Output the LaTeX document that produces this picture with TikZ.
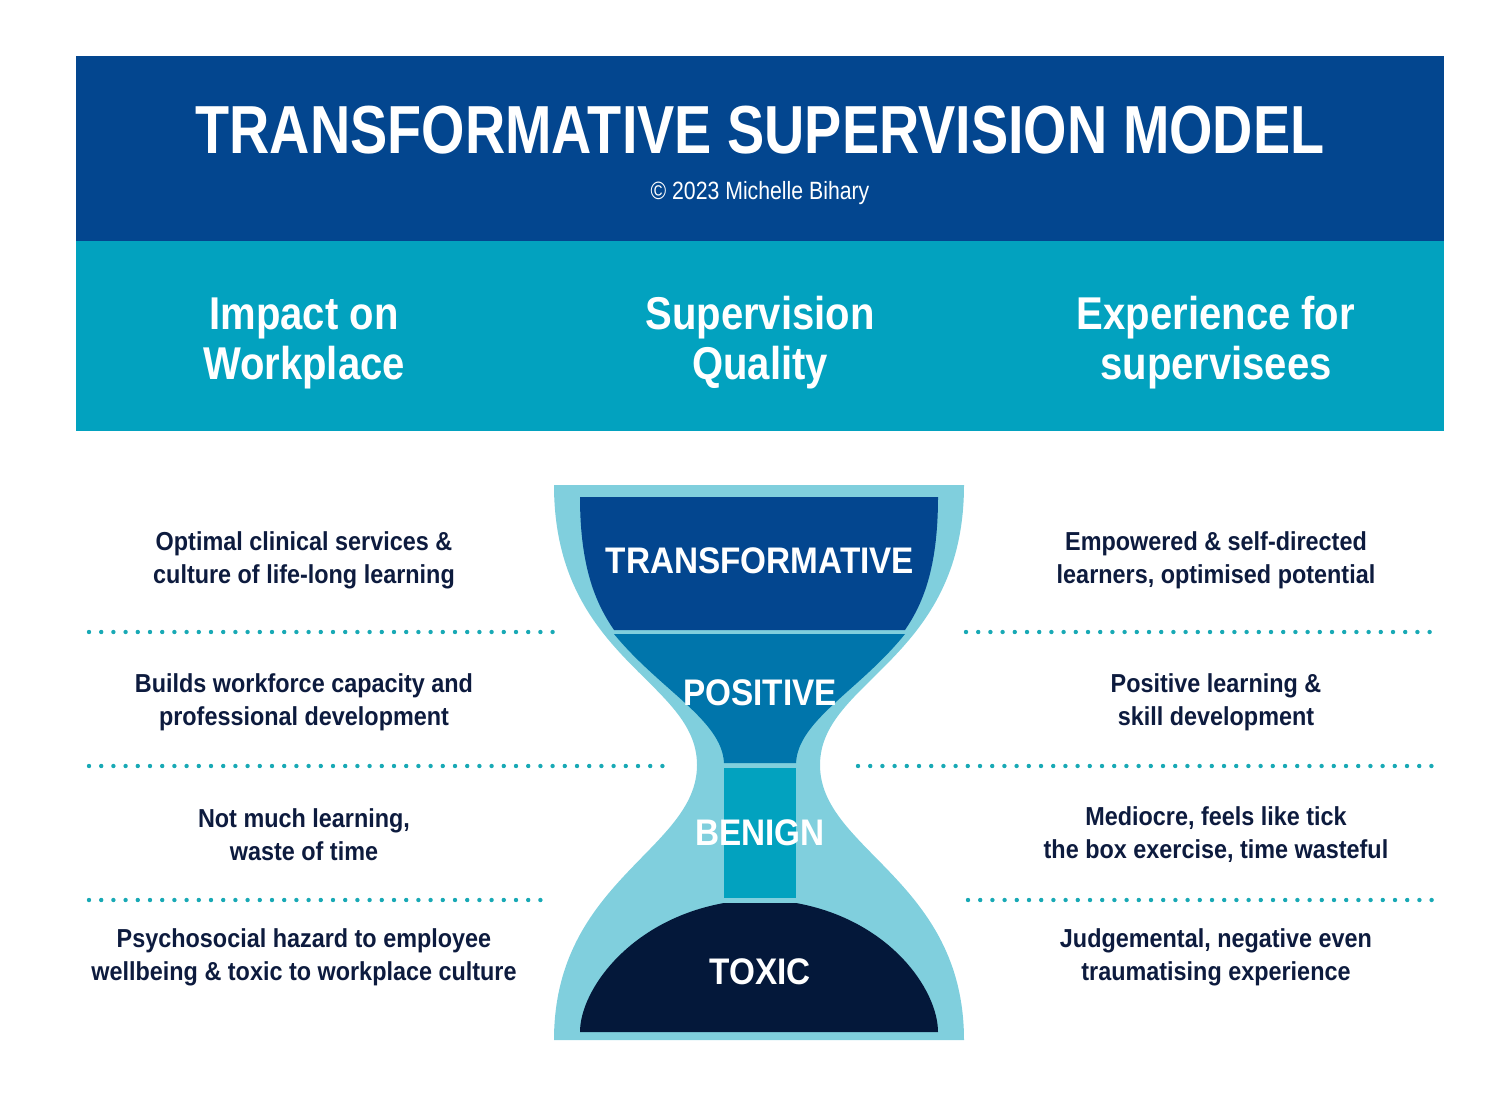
\documentclass[tikz,border=0pt]{standalone}
\usepackage{fontspec}
\setmainfont{Liberation Sans}[FakeStretch=0.9,BoldFont={Liberation Sans Bold},BoldFeatures={FakeStretch=0.9}]
\newfontfamily\titlefont{Liberation Sans Bold}[FakeStretch=0.82]
\newfontfamily\subfont{Liberation Sans}[FakeStretch=0.85]
\newfontfamily\headfont{Liberation Sans Bold}[FakeStretch=0.87]
\definecolor{navy}{HTML}{03468F}
\definecolor{teal}{HTML}{02A2BF}
\definecolor{light}{HTML}{80CFDD}
\definecolor{posc}{HTML}{0075AB}
\definecolor{toxc}{HTML}{04183A}
\definecolor{ink}{HTML}{0D1B3E}
\definecolor{dots}{HTML}{18A9B5}
\tikzset{body/.style={text=ink,font=\bfseries\fontsize{26}{33}\selectfont,align=center},
 head/.style={text=white,font=\headfont\fontsize{46}{50}\selectfont,align=center},
 lvl/.style={text=white,font=\bfseries\fontsize{37}{40}\selectfont},
 dotline/.style={dots,line width=4.4pt,line cap=round,dash pattern=on 0pt off 12.2pt}}
\begin{document}
\begin{tikzpicture}[x=1pt,y=-1pt]
\useasboundingbox (0,0) rectangle (1500,1108);
\fill[navy] (76,56) rectangle (1444,241);
\fill[teal] (76,241) rectangle (1444,431);
\node[text=white,font=\titlefont\fontsize{68}{70}\selectfont] (title) at (760,130) {TRANSFORMATIVE SUPERVISION MODEL};
\node[text=white,font=\subfont\fontsize{25}{28}\selectfont] (sub) at (760,193) {© 2023 Michelle Bihary};
\node[head] (h1) at (304,343) {Impact on\\Workplace};
\node[head] (h2) at (760,343) {Supervision\\Quality};
\node[head] (h3) at (1216,343) {Experience for\\supervisees};
% hourglass
\fill[light] (554,485) -- (964,485) .. controls (964,660) and (820,680) .. (820,765) .. controls (820,850) and (964,880) .. (964,1040) -- (554,1040) .. controls (554,880) and (697,850) .. (697,765) .. controls (697,680) and (554,660) .. (554,485) -- cycle;
\fill[navy] (580,497) -- (938,497) .. controls (938,570) and (922,605) .. (905,630) -- (614,630) .. controls (597,605) and (580,570) .. (580,497) -- cycle;
\fill[posc] (614,634) -- (905,634) .. controls (860,690) and (798,720) .. (796,763) -- (724,763) .. controls (722,720) and (660,690) .. (614,634) -- cycle;
\fill[teal] (724,768) rectangle (796,898);
\fill[toxc] (724,903) -- (796,903) .. controls (890,920) and (938,990) .. (938,1032) -- (580,1032) .. controls (580,990) and (630,920) .. (724,903) -- cycle;
\node[lvl] (l1) at (760,561) {TRANSFORMATIVE};
\node[lvl] (l2) at (760,693) {POSITIVE};
\node[lvl] (l3) at (760,833) {BENIGN};
\node[lvl] (l4) at (760,972) {TOXIC};
% dotted lines
\draw[dotline] (89,632) -- (560,632);
\draw[dotline] (966,632) -- (1435,632);
\draw[dotline] (89,766) -- (665,766);
\draw[dotline] (858,766) -- (1435,766);
\draw[dotline] (89,900) -- (552,900);
\draw[dotline] (968,900) -- (1435,900);
% texts
\node[body] (a1) at (304,560) {Optimal clinical services \&\\culture of life-long learning};
\node[body] (a2) at (304,702) {Builds workforce capacity and\\professional development};
\node[body] (a3) at (304,835) {Not much learning,\\waste of time};
\node[body] (a4) at (304,957) {Psychosocial hazard to employee\\wellbeing \& toxic to workplace culture};
\node[body] (b1) at (1216,560) {Empowered \& self-directed\\learners, optimised potential};
\node[body] (b2) at (1216,702) {Positive learning \&\\skill development};
\node[body] (b3) at (1216,835) {Mediocre, feels like tick\\the box exercise, time wasteful};
\node[body] (b4) at (1216,957) {Judgemental, negative even\\traumatising experience};
\end{tikzpicture}
\end{document}
